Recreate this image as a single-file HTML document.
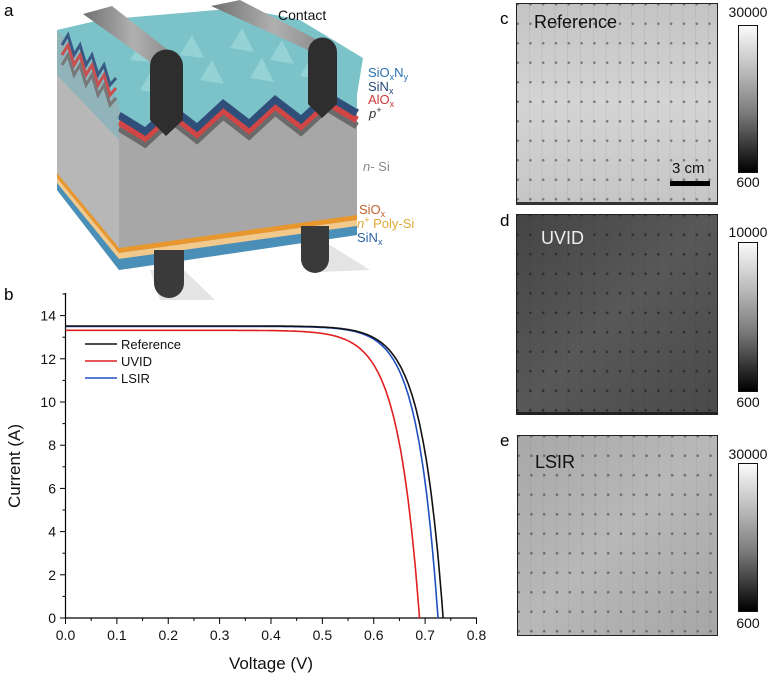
<!DOCTYPE html>
<html><head><meta charset="utf-8"><style>
html,body{margin:0;padding:0;background:#fff;}
body{width:768px;height:678px;overflow:hidden;position:relative;font-family:"Liberation Sans",Arial,sans-serif;}
.el{position:absolute;border:1px solid #222;box-sizing:border-box;}
.cb{position:absolute;width:20px;border:1px solid #111;box-sizing:border-box;background:linear-gradient(#fafafa,#bdbdbd 30%,#7a7a7a 60%,#000);}
.t{position:absolute;font-size:15px;color:#111;}
</style></head><body>
<svg width="768" height="678" style="position:absolute;left:0;top:0" xmlns="http://www.w3.org/2000/svg" font-family="Liberation Sans, Arial, sans-serif">
<defs>
<linearGradient id="rod" x1="0" y1="0" x2="1" y2="0"><stop offset="0" stop-color="#707070"/><stop offset="0.5" stop-color="#b0b0b0"/><stop offset="1" stop-color="#808080"/></linearGradient>
</defs>
<text x="4" y="16" font-size="17">a</text>
<text x="4" y="300" font-size="17">b</text>
<polygon points="150,270 184,270 215,300 160,300" fill="#e4e4e4"/>
<polygon points="300,245 330,245 370,270 320,272" fill="#e4e4e4"/>
<polygon points="57,30 119,100 119,270 57,190" fill="#b7b7b7"/>
<polygon points="119,100 357,80 357,235 119,270" fill="#a7a7a7"/>
<polygon points="57,30 100,20 240,8 300,20 363,58 357,95 119,105" fill="#7cc3c9"/>
<g fill="#9ad6da" opacity="0.8">
<polygon points="130,60 142,40 152,62"/><polygon points="180,55 192,35 204,58"/><polygon points="230,48 242,28 254,52"/><polygon points="270,60 282,40 294,64"/><polygon points="200,80 212,60 224,84"/><polygon points="250,78 262,58 274,82"/><polygon points="300,76 312,56 324,80"/><polygon points="140,90 152,70 164,94"/>
</g>
<g fill="none" stroke-linejoin="miter">
<polyline points="119,118 145,134 171,110 197,130 223,106 249,126 275,102 301,122 327,98 357,116" stroke="#6a6a6a" stroke-width="7" transform="translate(0,10)"/>
<polyline points="119,118 145,134 171,110 197,130 223,106 249,126 275,102 301,122 327,98 357,116" stroke="#d24545" stroke-width="7" transform="translate(0,4)"/>
<polyline points="119,118 145,134 171,110 197,130 223,106 249,126 275,102 301,122 327,98 357,116" stroke="#2f4f7a" stroke-width="8" transform="translate(0,-3)"/>
</g>
<polygon points="119,100 119,111 145,127 171,103 197,123 223,99 249,119 275,95 301,115 327,91 357,109 357,80" fill="#7cc3c9"/>
<polygon points="57,30 119,100 119,140 57,75" fill="#7fb2ba" opacity="0.7"/>
<polyline points="62,45 68,35 74,55 80,45 86,65 92,55 98,75 104,65 110,85 116,78" fill="none" stroke="#3a5a85" stroke-width="3"/>
<polyline points="62,55 68,45 74,65 80,55 86,75 92,65 98,85 104,75 110,95 116,88" fill="none" stroke="#c85050" stroke-width="3"/>
<polyline points="62,65 68,55 74,75 80,65 86,85 92,75 98,95 104,85 110,105 116,98" fill="none" stroke="#777" stroke-width="3"/>
<polygon points="57,173 119,248 357,215 357,220 119,253 57,178" fill="#e8962e"/>
<polygon points="57,178 119,253 357,220 357,226 119,259 57,183" fill="#f1c98c"/>
<polygon points="57,183 119,259 357,226 357,235 119,270 57,190" fill="#4a8fb7"/>
<polygon points="83,14 112,6 183,62 150,62" fill="url(#rod)"/>
<polygon points="211,6 240,0 337,50 308,50" fill="url(#rod)"/>
<path d="M150,66 A16.5,16.5 0 0 1 183,66 L183,120 L166,136 L150,120 Z" fill="#2e2e2e"/>
<path d="M308,52 A14.5,14.5 0 0 1 337,52 L337,104 L322,118 L308,104 Z" fill="#2e2e2e"/>
<path d="M154,250 L184,250 L184,283 A15,15 0 0 1 154,283 Z" fill="#3a3a3a"/>
<path d="M301,226 L329,226 L329,259 A14,14 0 0 1 301,259 Z" fill="#3a3a3a"/>
<text x="278" y="20" font-size="14" fill="#111">Contact</text>
<g font-size="13">
<text x="368" y="77" fill="#2a72b5">SiO<tspan font-size="9" dy="3">x</tspan><tspan dy="-3">N</tspan><tspan font-size="9" dy="3">y</tspan></text>
<text x="368" y="91" fill="#26477a">SiN<tspan font-size="9" dy="3">x</tspan></text>
<text x="368" y="104" fill="#d0393b">AlO<tspan font-size="9" dy="3">x</tspan></text>
<text x="369" y="118" fill="#333" font-style="italic">p<tspan font-size="9" dy="-5">+</tspan></text>
<text x="363" y="171" fill="#888"><tspan font-style="italic">n</tspan>- Si</text>
<text x="359" y="214" fill="#c2602a">SiO<tspan font-size="9" dy="3">x</tspan></text>
<text x="357" y="228" fill="#e0a838"><tspan font-style="italic">n</tspan><tspan font-size="9" dy="-5">+</tspan><tspan dy="5"> Poly-Si</tspan></text>
<text x="357" y="242" fill="#2c64a4">SiN<tspan font-size="9" dy="3">x</tspan></text>
</g>
<g stroke="#000" stroke-width="1.2" fill="none">
<line x1="65.5" y1="293" x2="65.5" y2="618"/>
<line x1="65.5" y1="618" x2="477" y2="618"/>
</g>
<g id="ticks" stroke="#000" stroke-width="1"></g>
<g id="labels" font-size="14" fill="#111"></g>
<text transform="translate(20,466) rotate(-90)" font-size="17" text-anchor="middle" fill="#111">Current (A)</text>
<text x="271" y="669" font-size="17" text-anchor="middle" fill="#111">Voltage (V)</text>
<g id="curves" fill="none" stroke-width="1.6"></g>
<g stroke-width="1.6">
<line x1="85" y1="344" x2="117" y2="344" stroke="#111"/>
<line x1="85" y1="361" x2="117" y2="361" stroke="#e02020"/>
<line x1="85" y1="378" x2="117" y2="378" stroke="#2050c0"/>
</g>
<g font-size="13" fill="#111">
<text x="121" y="349">Reference</text><text x="121" y="366">UVID</text><text x="121" y="383">LSIR</text>
</g>
<text x="500" y="24" font-size="17">c</text>
<text x="500" y="226" font-size="17">d</text>
<text x="500" y="446" font-size="17">e</text>
<g font-size="14" fill="#111" text-anchor="middle">
<text x="748" y="17">30000</text><text x="748" y="187">600</text>
<text x="748" y="237">10000</text><text x="748" y="407">600</text>
<text x="748" y="459">30000</text><text x="748" y="628">600</text>
</g>
</svg>
<div class="el" style="left:516px;top:3px;width:202px;height:202px;border-bottom:3px solid #333;background:
radial-gradient(circle,#777 1px,transparent 1.6px) 7px 10px/12.8px 19.5px,
repeating-linear-gradient(90deg,transparent 0 11.8px,rgba(0,0,0,0.05) 11.8px 12.8px),
linear-gradient(#c4c4c4,#d4d4d4 50%,#c6c6c6);"></div>
<div class="t" style="left:534px;top:12px;font-size:18px;">Reference</div>
<div style="position:absolute;left:670px;top:181px;width:40px;height:5px;background:#000"></div>
<div class="t" style="left:672px;top:160px;font-size:15px;">3 cm</div>
<div class="el" style="left:516px;top:214px;width:202px;height:201px;border-bottom:3px solid #222;background:
radial-gradient(circle,#2e2e2e 1px,transparent 1.6px) 7px 10px/12.8px 19.5px,
repeating-linear-gradient(90deg,transparent 0 11.8px,rgba(0,0,0,0.04) 11.8px 12.8px),
linear-gradient(135deg,#454545,#585858 50%,#4a4a4a);"></div>
<div class="t" style="left:541px;top:228px;font-size:18px;color:#eee;">UVID</div>
<div class="el" style="left:517px;top:435px;width:201px;height:201px;background:
radial-gradient(circle,#6a6a6a 1px,transparent 1.6px) 7px 10px/12.8px 19.5px,
repeating-linear-gradient(90deg,transparent 0 11.8px,rgba(0,0,0,0.04) 11.8px 12.8px),
linear-gradient(135deg,#a8a8a8,#b8b8b8 50%,#a6a6a6);"></div>
<div class="t" style="left:535px;top:452px;font-size:18px;">LSIR</div>
<div class="cb" style="left:738px;top:25px;height:148px;"></div>
<div class="cb" style="left:738px;top:242px;height:150px;"></div>
<div class="cb" style="left:738px;top:463px;height:149px;"></div>
<script>
var ns="http://www.w3.org/2000/svg";
function X(v){return 65.5+v*513.75;}
function Y(i){return 618-i*21.6;}
var tk=document.getElementById("ticks"),lb=document.getElementById("labels");
function L(x1,y1,x2,y2){var l=document.createElementNS(ns,"line");l.setAttribute("x1",x1);l.setAttribute("y1",y1);l.setAttribute("x2",x2);l.setAttribute("y2",y2);tk.appendChild(l);}
function T(x,y,s,a){var t=document.createElementNS(ns,"text");t.setAttribute("x",x);t.setAttribute("y",y);t.setAttribute("text-anchor",a);t.textContent=s;lb.appendChild(t);}
for(var k=0;k<=16;k++){var v=k*0.05,x=X(v);L(x,618,x,k%2?621:624);if(k%2==0)T(x,640,(v).toFixed(1),"middle");}
for(var k=0;k<=15;k++){var y=Y(k);L(65.5,y,k%2?62.5:60,y);if(k%2==0)T(56,y+5,""+k,"end");}
var cv=document.getElementById("curves");
function C(isc,voc,a,col){var d="";for(var v=0;v<=voc+1e-9;v+=0.002){var i=isc*(1-Math.exp((v-voc)/a))/(1-Math.exp(-voc/a));d+=(d?"L":"M")+X(v).toFixed(1)+","+Y(Math.max(i,0)).toFixed(1);}d+="L"+X(voc).toFixed(1)+","+Y(0);var p=document.createElementNS(ns,"path");p.setAttribute("d",d);p.setAttribute("stroke",col);cv.appendChild(p);}
C(13.32,0.689,0.042,"#e02020");
C(13.5,0.725,0.040,"#2050c0");
C(13.52,0.735,0.042,"#111");
</script>
</body></html>
